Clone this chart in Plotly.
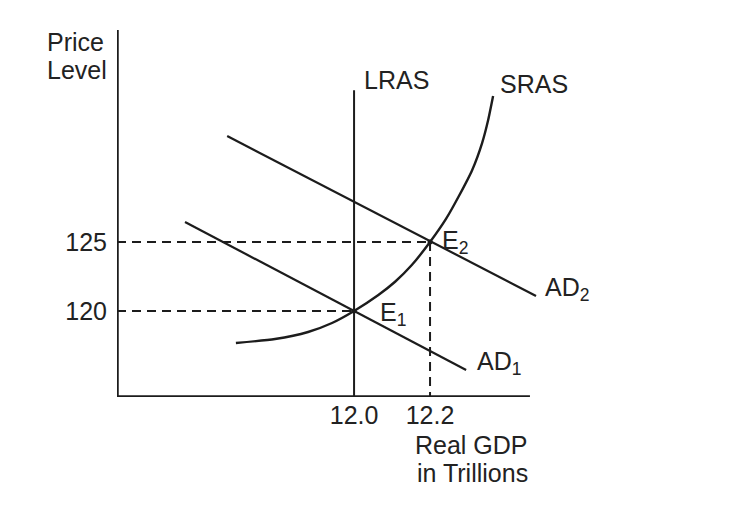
import plotly.graph_objects as go

# ---- data (economic units) ----
lras_x = 12.0
e1 = (12.0, 120)
e2 = (12.2, 125)

ad1_x = [11.555, 12.295]
ad1_y = [126.45, 115.72]

ad2_x = [11.666, 12.479]
ad2_y = [132.68, 121.09]

sras_x = [11.689, 11.792, 11.879, 11.942, 12.0, 12.064, 12.108, 12.152, 12.2,
          12.242, 12.276, 12.311, 12.337, 12.353, 12.366]
sras_y = [117.68, 117.97, 118.48, 119.13, 120.0, 121.16, 122.12, 123.33, 125.0,
          126.67, 128.33, 130.22, 132.17, 133.84, 135.58]

x_ticks = [12.0, 12.2]
x_ticktext = ["12.0", "12.2"]
y_ticks = [120, 125]
y_ticktext = ["120", "125"]

X_MIN, X_MAX = 11.376, 12.6
Y_MIN, Y_MAX = 113.77, 140.36
X_AXIS_END = 12.463
LRAS_TOP = 136.0

INK = "#1c1c1c"
FONT = dict(family="Liberation Sans, Arial, Helvetica, sans-serif", size=25, color="#222222")

fig = go.Figure()

# LRAS
fig.add_trace(go.Scatter(x=[lras_x, lras_x], y=[Y_MIN, LRAS_TOP], mode="lines",
                         line=dict(color=INK, width=2), hoverinfo="skip"))
# AD1, AD2
fig.add_trace(go.Scatter(x=ad1_x, y=ad1_y, mode="lines", line=dict(color=INK, width=2.2), hoverinfo="skip"))
fig.add_trace(go.Scatter(x=ad2_x, y=ad2_y, mode="lines", line=dict(color=INK, width=2.2), hoverinfo="skip"))
# SRAS
fig.add_trace(go.Scatter(x=sras_x, y=sras_y, mode="lines",
                         line=dict(color=INK, width=2.4, shape="spline", smoothing=0.6), hoverinfo="skip"))

# dashed guides
dash = "9px,6px"
fig.add_trace(go.Scatter(x=[X_MIN, e2[0]], y=[e2[1], e2[1]], mode="lines",
                         line=dict(color=INK, width=2, dash=dash), hoverinfo="skip"))
fig.add_trace(go.Scatter(x=[X_MIN, e1[0]], y=[e1[1], e1[1]], mode="lines",
                         line=dict(color=INK, width=2, dash=dash), hoverinfo="skip"))
fig.add_trace(go.Scatter(x=[e2[0], e2[0]], y=[e2[1], Y_MIN], mode="lines",
                         line=dict(color=INK, width=2, dash=dash), hoverinfo="skip"))

# equilibrium dots
fig.add_trace(go.Scatter(x=[e1[0], e2[0]], y=[e1[1], e2[1]], mode="markers",
                         marker=dict(color=INK, size=5), hoverinfo="skip"))

# axis lines
fig.add_shape(type="line", x0=X_MIN, x1=X_AXIS_END, y0=Y_MIN, y1=Y_MIN,
              xref="x", yref="y", line=dict(color=INK, width=3.5))
fig.add_shape(type="line", x0=X_MIN, x1=X_MIN, y0=Y_MIN, y1=Y_MAX,
              xref="x", yref="y", line=dict(color=INK, width=3.5))


def px(x):
    return (x - X_MIN) / (X_MAX - X_MIN)


def py(y):
    return (y - Y_MIN) / (Y_MAX - Y_MIN)


def ann(text, x, y, xanchor="left", yanchor="middle", height=None):
    fig.add_annotation(text=text, x=px(x), y=py(y), xref="paper", yref="paper", showarrow=False,
                       xanchor=xanchor, yanchor=yanchor, font=FONT, height=height)


ann("LRAS", 12.021, 136.74)
ann("SRAS", 12.379, 136.45)
ann("E<sub>2</sub>", 12.226, 125.0)
ann("E<sub>1</sub>", 12.063, 119.8)
ann("AD<sub>2</sub>", 12.497, 121.6)
ann("AD<sub>1</sub>", 12.318, 116.2)
ann("Price", 11.187, 139.49, height=26)
ann("Level", 11.187, 137.47, height=26)
ann("Real GDP", X_AXIS_END, 110.26, xanchor="right", height=26)
ann("in Trillions", X_AXIS_END, 108.26, xanchor="right", height=26)

fig.update_layout(
    width=734, height=516,
    margin=dict(l=109, r=160, t=22, b=127),
    paper_bgcolor="white", plot_bgcolor="white",
    showlegend=False,
    font=FONT,
)
fig.update_xaxes(range=[X_MIN, X_MAX], showgrid=False, zeroline=False, showline=False,
                 tickvals=x_ticks, ticktext=x_ticktext, ticks="", tickfont=FONT,
                 ticklabelstandoff=1, fixedrange=True)
fig.update_yaxes(range=[Y_MIN, Y_MAX], showgrid=False, zeroline=False, showline=False,
                 tickvals=y_ticks, ticktext=y_ticktext, ticks="", tickfont=FONT,
                 ticklabelstandoff=9, fixedrange=True)

fig.write_html("out.html")
